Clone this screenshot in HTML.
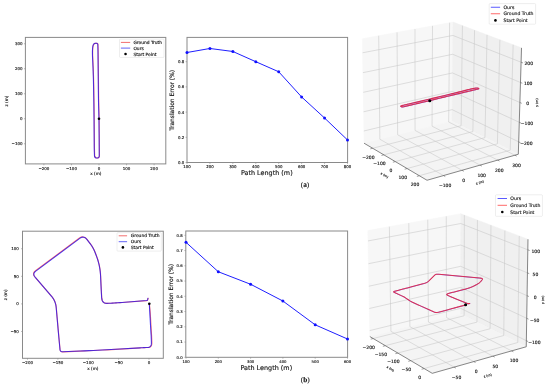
<!DOCTYPE html>
<html><head><meta charset="utf-8"><title>Trajectory and translation error</title>
<style>html,body{margin:0;padding:0;background:#fff;} body{width:550px;height:388px;overflow:hidden;} svg{display:block;}</style>
</head><body>
<svg width="550" height="388" viewBox="0 0 550 388" text-rendering="geometricPrecision">
<rect width="550" height="388" fill="#fff"/>
<rect x="25.4" y="37.4" width="140.4" height="126.5" fill="none" stroke="#8a8a8a" stroke-width="1"/>
<line x1="43.88" y1="163.9" x2="43.88" y2="165.3" stroke="#8a8a8a" stroke-width="0.6" />
<text x="43.88" y="169.84" font-size="4.0" text-anchor="middle" fill="#1a1a1a" font-family="'DejaVu Sans', 'Liberation Sans', sans-serif" stroke="#1a1a1a" stroke-width="0.15">−200</text>
<line x1="71.44" y1="163.9" x2="71.44" y2="165.3" stroke="#8a8a8a" stroke-width="0.6" />
<text x="71.44" y="169.84" font-size="4.0" text-anchor="middle" fill="#1a1a1a" font-family="'DejaVu Sans', 'Liberation Sans', sans-serif" stroke="#1a1a1a" stroke-width="0.15">−100</text>
<line x1="99" y1="163.9" x2="99" y2="165.3" stroke="#8a8a8a" stroke-width="0.6" />
<text x="99" y="169.84" font-size="4.0" text-anchor="middle" fill="#1a1a1a" font-family="'DejaVu Sans', 'Liberation Sans', sans-serif" stroke="#1a1a1a" stroke-width="0.15">0</text>
<line x1="126.56" y1="163.9" x2="126.56" y2="165.3" stroke="#8a8a8a" stroke-width="0.6" />
<text x="126.56" y="169.84" font-size="4.0" text-anchor="middle" fill="#1a1a1a" font-family="'DejaVu Sans', 'Liberation Sans', sans-serif" stroke="#1a1a1a" stroke-width="0.15">100</text>
<line x1="154.12" y1="163.9" x2="154.12" y2="165.3" stroke="#8a8a8a" stroke-width="0.6" />
<text x="154.12" y="169.84" font-size="4.0" text-anchor="middle" fill="#1a1a1a" font-family="'DejaVu Sans', 'Liberation Sans', sans-serif" stroke="#1a1a1a" stroke-width="0.15">200</text>
<line x1="24" y1="143.75" x2="25.4" y2="143.75" stroke="#8a8a8a" stroke-width="0.6" />
<text x="22.6" y="145.19" font-size="4.0" text-anchor="end" fill="#1a1a1a" font-family="'DejaVu Sans', 'Liberation Sans', sans-serif" stroke="#1a1a1a" stroke-width="0.15">−100</text>
<line x1="24" y1="118.75" x2="25.4" y2="118.75" stroke="#8a8a8a" stroke-width="0.6" />
<text x="22.6" y="120.19" font-size="4.0" text-anchor="end" fill="#1a1a1a" font-family="'DejaVu Sans', 'Liberation Sans', sans-serif" stroke="#1a1a1a" stroke-width="0.15">0</text>
<line x1="24" y1="93.75" x2="25.4" y2="93.75" stroke="#8a8a8a" stroke-width="0.6" />
<text x="22.6" y="95.19" font-size="4.0" text-anchor="end" fill="#1a1a1a" font-family="'DejaVu Sans', 'Liberation Sans', sans-serif" stroke="#1a1a1a" stroke-width="0.15">100</text>
<line x1="24" y1="68.75" x2="25.4" y2="68.75" stroke="#8a8a8a" stroke-width="0.6" />
<text x="22.6" y="70.19" font-size="4.0" text-anchor="end" fill="#1a1a1a" font-family="'DejaVu Sans', 'Liberation Sans', sans-serif" stroke="#1a1a1a" stroke-width="0.15">200</text>
<line x1="24" y1="43.75" x2="25.4" y2="43.75" stroke="#8a8a8a" stroke-width="0.6" />
<text x="22.6" y="45.19" font-size="4.0" text-anchor="end" fill="#1a1a1a" font-family="'DejaVu Sans', 'Liberation Sans', sans-serif" stroke="#1a1a1a" stroke-width="0.15">300</text>
<text x="95.8" y="175.11" font-size="4.2" text-anchor="middle" fill="#1a1a1a" font-family="'DejaVu Sans', 'Liberation Sans', sans-serif" stroke="#1a1a1a" stroke-width="0.15">x (m)</text>
<text x="6" y="102.51" font-size="4.2" text-anchor="middle" fill="#1a1a1a" font-family="'DejaVu Sans', 'Liberation Sans', sans-serif" stroke="#1a1a1a" stroke-width="0.15" transform="rotate(-90 6 101)">z (m)</text>
<polyline points="99.15,118.75 98.86,108 98.82,106.22 98.78,104.44 98.74,102.67 98.7,100.89 98.67,99.11 98.64,97.33 98.61,95.56 98.59,93.78 98.57,92 98.45,80 98.43,77.78 98.41,75.56 98.38,73.33 98.36,71.11 98.34,68.89 98.32,66.67 98.29,64.44 98.27,62.22 98.25,60 98.21,56 98.2,54.7 98.18,53.46 98.17,52.29 98.15,51.19 98.13,50.15 98.11,49.18 98.09,48.27 98.07,47.43 98.05,46.65 97.99,44.8 97.97,44.48 97.9,44.21 97.8,43.97 97.67,43.76 97.5,43.6 97.29,43.47 97.04,43.37 96.77,43.32 96.45,43.3 95.65,43.3 95.16,43.35 94.72,43.49 94.32,43.73 93.97,44.06 93.67,44.49 93.41,45.01 93.19,45.63 93.02,46.34 92.9,47.15 92.9,47.15 92.81,48.03 92.74,48.97 92.68,49.95 92.64,51 92.62,52.09 92.62,53.24 92.64,54.44 92.67,55.69 92.72,56.99 93,63.01 93.12,65.68 93.23,68.34 93.33,71.01 93.42,73.67 93.5,76.34 93.58,79 93.65,81.67 93.71,84.33 93.76,87 93.89,95 93.95,98.34 94,101.67 94.05,105 94.09,108.33 94.13,111.67 94.17,115 94.21,118.33 94.24,121.67 94.26,125 94.42,146 94.43,146.89 94.44,147.78 94.45,148.67 94.47,149.56 94.49,150.44 94.51,151.33 94.54,152.22 94.57,153.11 94.6,154 94.66,155.6 94.71,156.11 94.81,156.55 94.97,156.93 95.19,157.26 95.46,157.53 95.78,157.73 96.17,157.88 96.61,157.97 97.1,158 97.1,158 97.59,157.97 98.03,157.88 98.4,157.73 98.72,157.53 98.98,157.26 99.18,156.93 99.33,156.55 99.41,156.1 99.44,155.6 99.39,148 99.38,146.22 99.37,144.44 99.36,142.67 99.35,140.89 99.34,139.11 99.32,137.33 99.31,135.56 99.29,133.78 99.27,132 99.15,118.75" fill="none" stroke="#ff0000" stroke-width="1.15" stroke-opacity="0.55" stroke-linejoin="round" stroke-linecap="round" />
<polyline points="98.95,118.75 98.66,108 98.62,106.22 98.58,104.44 98.54,102.67 98.5,100.89 98.47,99.11 98.44,97.33 98.41,95.56 98.39,93.78 98.37,92 98.25,80 98.23,77.78 98.21,75.56 98.18,73.33 98.16,71.11 98.14,68.89 98.12,66.67 98.09,64.44 98.07,62.22 98.05,60 98.01,56 98,54.7 97.98,53.46 97.97,52.29 97.95,51.19 97.93,50.15 97.91,49.18 97.89,48.27 97.87,47.43 97.85,46.65 97.79,44.8 97.77,44.48 97.7,44.21 97.6,43.97 97.47,43.76 97.3,43.6 97.09,43.47 96.84,43.37 96.57,43.32 96.25,43.3 95.45,43.3 94.96,43.35 94.52,43.49 94.12,43.73 93.77,44.06 93.47,44.49 93.21,45.01 92.99,45.63 92.82,46.34 92.7,47.15 92.7,47.15 92.61,48.03 92.54,48.97 92.48,49.95 92.44,51 92.42,52.09 92.42,53.24 92.44,54.44 92.47,55.69 92.52,56.99 92.8,63.01 92.92,65.68 93.03,68.34 93.13,71.01 93.22,73.67 93.3,76.34 93.38,79 93.45,81.67 93.51,84.33 93.56,87 93.69,95 93.75,98.34 93.8,101.67 93.85,105 93.89,108.33 93.93,111.67 93.97,115 94.01,118.33 94.04,121.67 94.06,125 94.22,146 94.23,146.89 94.24,147.78 94.25,148.67 94.27,149.56 94.29,150.44 94.31,151.33 94.34,152.22 94.37,153.11 94.4,154 94.46,155.6 94.51,156.11 94.61,156.55 94.77,156.93 94.99,157.26 95.26,157.53 95.58,157.73 95.97,157.88 96.41,157.97 96.9,158 96.9,158 97.39,157.97 97.83,157.88 98.2,157.73 98.52,157.53 98.78,157.26 98.98,156.93 99.13,156.55 99.21,156.1 99.24,155.6 99.19,148 99.18,146.22 99.17,144.44 99.16,142.67 99.15,140.89 99.14,139.11 99.12,137.33 99.11,135.56 99.09,133.78 99.07,132 98.95,118.75" fill="none" stroke="#0000ff" stroke-width="1.1" stroke-opacity="0.68" stroke-linejoin="round" stroke-linecap="round" />
<circle cx="99" cy="118.75" r="1.3" fill="#000"/>
<rect x="119.5" y="39.2" width="44.5" height="18.2" rx="0.8" fill="#fff" fill-opacity="0.8" stroke="#dcdcdc" stroke-width="0.5"/>
<line x1="120.9" y1="42.4" x2="130.2" y2="42.4" stroke="#f26e6e" stroke-width="1.0" />
<text x="133.4" y="43.98" font-size="4.4" text-anchor="start" fill="#1a1a1a" font-family="'DejaVu Sans', 'Liberation Sans', sans-serif" stroke="#1a1a1a" stroke-width="0.15">Ground Truth</text>
<line x1="120.9" y1="48.1" x2="130.2" y2="48.1" stroke="#6464f6" stroke-width="1.0" />
<text x="133.4" y="49.68" font-size="4.4" text-anchor="start" fill="#1a1a1a" font-family="'DejaVu Sans', 'Liberation Sans', sans-serif" stroke="#1a1a1a" stroke-width="0.15">Ours</text>
<circle cx="125.55" cy="54" r="1.3" fill="#000"/>
<text x="133.4" y="55.58" font-size="4.4" text-anchor="start" fill="#1a1a1a" font-family="'DejaVu Sans', 'Liberation Sans', sans-serif" stroke="#1a1a1a" stroke-width="0.15">Start Point</text>
<rect x="187" y="37.4" width="160.6" height="125.1" fill="none" stroke="#8a8a8a" stroke-width="1"/>
<line x1="187" y1="162.5" x2="187" y2="163.9" stroke="#8a8a8a" stroke-width="0.6" />
<text x="187" y="168.2" font-size="3.9" text-anchor="middle" fill="#1a1a1a" font-family="'DejaVu Sans', 'Liberation Sans', sans-serif" stroke="#1a1a1a" stroke-width="0.15">100</text>
<line x1="209.93" y1="162.5" x2="209.93" y2="163.9" stroke="#8a8a8a" stroke-width="0.6" />
<text x="209.93" y="168.2" font-size="3.9" text-anchor="middle" fill="#1a1a1a" font-family="'DejaVu Sans', 'Liberation Sans', sans-serif" stroke="#1a1a1a" stroke-width="0.15">200</text>
<line x1="232.86" y1="162.5" x2="232.86" y2="163.9" stroke="#8a8a8a" stroke-width="0.6" />
<text x="232.86" y="168.2" font-size="3.9" text-anchor="middle" fill="#1a1a1a" font-family="'DejaVu Sans', 'Liberation Sans', sans-serif" stroke="#1a1a1a" stroke-width="0.15">300</text>
<line x1="255.79" y1="162.5" x2="255.79" y2="163.9" stroke="#8a8a8a" stroke-width="0.6" />
<text x="255.79" y="168.2" font-size="3.9" text-anchor="middle" fill="#1a1a1a" font-family="'DejaVu Sans', 'Liberation Sans', sans-serif" stroke="#1a1a1a" stroke-width="0.15">400</text>
<line x1="278.72" y1="162.5" x2="278.72" y2="163.9" stroke="#8a8a8a" stroke-width="0.6" />
<text x="278.72" y="168.2" font-size="3.9" text-anchor="middle" fill="#1a1a1a" font-family="'DejaVu Sans', 'Liberation Sans', sans-serif" stroke="#1a1a1a" stroke-width="0.15">500</text>
<line x1="301.64" y1="162.5" x2="301.64" y2="163.9" stroke="#8a8a8a" stroke-width="0.6" />
<text x="301.64" y="168.2" font-size="3.9" text-anchor="middle" fill="#1a1a1a" font-family="'DejaVu Sans', 'Liberation Sans', sans-serif" stroke="#1a1a1a" stroke-width="0.15">600</text>
<line x1="324.57" y1="162.5" x2="324.57" y2="163.9" stroke="#8a8a8a" stroke-width="0.6" />
<text x="324.57" y="168.2" font-size="3.9" text-anchor="middle" fill="#1a1a1a" font-family="'DejaVu Sans', 'Liberation Sans', sans-serif" stroke="#1a1a1a" stroke-width="0.15">700</text>
<line x1="347.5" y1="162.5" x2="347.5" y2="163.9" stroke="#8a8a8a" stroke-width="0.6" />
<text x="347.5" y="168.2" font-size="3.9" text-anchor="middle" fill="#1a1a1a" font-family="'DejaVu Sans', 'Liberation Sans', sans-serif" stroke="#1a1a1a" stroke-width="0.15">800</text>
<line x1="185.6" y1="162.5" x2="187" y2="162.5" stroke="#8a8a8a" stroke-width="0.6" />
<text x="184.2" y="163.9" font-size="3.9" text-anchor="end" fill="#1a1a1a" font-family="'DejaVu Sans', 'Liberation Sans', sans-serif" stroke="#1a1a1a" stroke-width="0.15">0.0</text>
<line x1="185.6" y1="137.3" x2="187" y2="137.3" stroke="#8a8a8a" stroke-width="0.6" />
<text x="184.2" y="138.7" font-size="3.9" text-anchor="end" fill="#1a1a1a" font-family="'DejaVu Sans', 'Liberation Sans', sans-serif" stroke="#1a1a1a" stroke-width="0.15">0.2</text>
<line x1="185.6" y1="112.1" x2="187" y2="112.1" stroke="#8a8a8a" stroke-width="0.6" />
<text x="184.2" y="113.5" font-size="3.9" text-anchor="end" fill="#1a1a1a" font-family="'DejaVu Sans', 'Liberation Sans', sans-serif" stroke="#1a1a1a" stroke-width="0.15">0.4</text>
<line x1="185.6" y1="86.9" x2="187" y2="86.9" stroke="#8a8a8a" stroke-width="0.6" />
<text x="184.2" y="88.3" font-size="3.9" text-anchor="end" fill="#1a1a1a" font-family="'DejaVu Sans', 'Liberation Sans', sans-serif" stroke="#1a1a1a" stroke-width="0.15">0.6</text>
<line x1="185.6" y1="61.7" x2="187" y2="61.7" stroke="#8a8a8a" stroke-width="0.6" />
<text x="184.2" y="63.1" font-size="3.9" text-anchor="end" fill="#1a1a1a" font-family="'DejaVu Sans', 'Liberation Sans', sans-serif" stroke="#1a1a1a" stroke-width="0.15">0.8</text>
<text x="266.8" y="174.92" font-size="6.45" text-anchor="middle" fill="#1a1a1a" font-family="'DejaVu Sans', 'Liberation Sans', sans-serif" stroke="#1a1a1a" stroke-width="0.15">Path Length (m)</text>
<text x="172.2" y="102.44" font-size="5.95" text-anchor="middle" fill="#1a1a1a" font-family="'DejaVu Sans', 'Liberation Sans', sans-serif" stroke="#1a1a1a" stroke-width="0.15" transform="rotate(-90 172.2 100.3)">Translation Error (%)</text>
<polyline points="187,52.5 209.93,48.47 232.86,51.49 255.79,61.7 278.72,71.78 301.64,96.98 324.57,118.02 347.5,139.95" fill="none" stroke="#1f1fff" stroke-width="1.0" stroke-opacity="1.0" stroke-linejoin="round" stroke-linecap="round" />
<circle cx="187" cy="52.5" r="1.5" fill="#1010ff"/>
<circle cx="209.93" cy="48.47" r="1.5" fill="#1010ff"/>
<circle cx="232.86" cy="51.49" r="1.5" fill="#1010ff"/>
<circle cx="255.79" cy="61.7" r="1.5" fill="#1010ff"/>
<circle cx="278.72" cy="71.78" r="1.5" fill="#1010ff"/>
<circle cx="301.64" cy="96.98" r="1.5" fill="#1010ff"/>
<circle cx="324.57" cy="118.02" r="1.5" fill="#1010ff"/>
<circle cx="347.5" cy="139.95" r="1.5" fill="#1010ff"/>
<rect x="22.5" y="231.2" width="140.8" height="127.1" fill="none" stroke="#8a8a8a" stroke-width="1"/>
<line x1="27.5" y1="358.3" x2="27.5" y2="359.7" stroke="#8a8a8a" stroke-width="0.6" />
<text x="27.5" y="364.34" font-size="4.0" text-anchor="middle" fill="#1a1a1a" font-family="'DejaVu Sans', 'Liberation Sans', sans-serif" stroke="#1a1a1a" stroke-width="0.15">−200</text>
<line x1="57.88" y1="358.3" x2="57.88" y2="359.7" stroke="#8a8a8a" stroke-width="0.6" />
<text x="57.88" y="364.34" font-size="4.0" text-anchor="middle" fill="#1a1a1a" font-family="'DejaVu Sans', 'Liberation Sans', sans-serif" stroke="#1a1a1a" stroke-width="0.15">−150</text>
<line x1="88.25" y1="358.3" x2="88.25" y2="359.7" stroke="#8a8a8a" stroke-width="0.6" />
<text x="88.25" y="364.34" font-size="4.0" text-anchor="middle" fill="#1a1a1a" font-family="'DejaVu Sans', 'Liberation Sans', sans-serif" stroke="#1a1a1a" stroke-width="0.15">−100</text>
<line x1="118.62" y1="358.3" x2="118.62" y2="359.7" stroke="#8a8a8a" stroke-width="0.6" />
<text x="118.62" y="364.34" font-size="4.0" text-anchor="middle" fill="#1a1a1a" font-family="'DejaVu Sans', 'Liberation Sans', sans-serif" stroke="#1a1a1a" stroke-width="0.15">−50</text>
<line x1="149" y1="358.3" x2="149" y2="359.7" stroke="#8a8a8a" stroke-width="0.6" />
<text x="149" y="364.34" font-size="4.0" text-anchor="middle" fill="#1a1a1a" font-family="'DejaVu Sans', 'Liberation Sans', sans-serif" stroke="#1a1a1a" stroke-width="0.15">0</text>
<line x1="21.1" y1="331.48" x2="22.5" y2="331.48" stroke="#8a8a8a" stroke-width="0.6" />
<text x="18.9" y="332.92" font-size="4.0" text-anchor="end" fill="#1a1a1a" font-family="'DejaVu Sans', 'Liberation Sans', sans-serif" stroke="#1a1a1a" stroke-width="0.15">−50</text>
<line x1="21.1" y1="303.9" x2="22.5" y2="303.9" stroke="#8a8a8a" stroke-width="0.6" />
<text x="18.9" y="305.34" font-size="4.0" text-anchor="end" fill="#1a1a1a" font-family="'DejaVu Sans', 'Liberation Sans', sans-serif" stroke="#1a1a1a" stroke-width="0.15">0</text>
<line x1="21.1" y1="276.31" x2="22.5" y2="276.31" stroke="#8a8a8a" stroke-width="0.6" />
<text x="18.9" y="277.75" font-size="4.0" text-anchor="end" fill="#1a1a1a" font-family="'DejaVu Sans', 'Liberation Sans', sans-serif" stroke="#1a1a1a" stroke-width="0.15">50</text>
<line x1="21.1" y1="248.73" x2="22.5" y2="248.73" stroke="#8a8a8a" stroke-width="0.6" />
<text x="18.9" y="250.17" font-size="4.0" text-anchor="end" fill="#1a1a1a" font-family="'DejaVu Sans', 'Liberation Sans', sans-serif" stroke="#1a1a1a" stroke-width="0.15">100</text>
<text x="92.8" y="370.11" font-size="4.2" text-anchor="middle" fill="#1a1a1a" font-family="'DejaVu Sans', 'Liberation Sans', sans-serif" stroke="#1a1a1a" stroke-width="0.15">x (m)</text>
<text x="5.5" y="296.41" font-size="4.2" text-anchor="middle" fill="#1a1a1a" font-family="'DejaVu Sans', 'Liberation Sans', sans-serif" stroke="#1a1a1a" stroke-width="0.15" transform="rotate(-90 5.5 294.9)">z (m)</text>
<polyline points="149.4,303.85 150.25,312.9 150.36,314.91 150.47,316.9 150.58,318.87 150.69,320.82 150.81,322.75 150.92,324.66 151.03,326.54 151.14,328.41 151.25,330.25 151.51,334.51 151.56,335.39 151.61,336.28 151.65,337.17 151.69,338.06 151.73,338.95 151.76,339.83 151.79,340.72 151.82,341.61 151.84,342.5 151.85,342.9 151.82,343.83 151.7,344.65 151.49,345.36 151.18,345.97 150.77,346.48 150.27,346.88 149.68,347.17 148.99,347.36 148.2,347.45 148.2,347.45 147.36,347.48 146.52,347.52 145.67,347.56 144.82,347.6 143.96,347.64 143.09,347.69 142.22,347.74 141.34,347.78 140.46,347.84 120.07,349.07 115.63,349.33 111.19,349.58 106.76,349.82 102.33,350.05 97.9,350.28 93.47,350.5 89.05,350.71 84.62,350.91 80.2,351.1 62.9,351.84 62.35,351.83 61.86,351.76 61.43,351.61 61.05,351.4 60.74,351.13 60.48,350.79 60.28,350.38 60.14,349.9 60.05,349.36 59.5,343.5 59.32,341.58 59.13,339.57 58.94,337.48 58.74,335.3 58.53,333.03 58.32,330.68 58.1,328.24 57.88,325.71 57.65,323.1 56.27,307.52 56.1,306.11 55.84,304.72 55.48,303.38 55.04,302.08 54.5,300.81 53.88,299.58 53.16,298.39 52.36,297.24 51.46,296.12 35.23,277.26 34.66,276.51 33.85,275.38 33.61,274.67 33.52,273.97 33.59,273.29 33.83,272.64 34.23,271.99 34.79,271.37 35.51,270.76 79.49,238.04 80.37,237.46 81.22,237.05 82.06,236.82 83.27,237.15 84.05,237.26 84.81,237.54 85.55,237.99 86.27,238.61 86.96,239.4 89.83,243.11 90.62,244.17 91.38,245.26 92.1,246.37 92.78,247.5 93.41,248.65 94.01,249.83 94.57,251.02 95.09,252.24 95.57,253.48 96.85,256.95 97.56,258.98 98.2,261.04 98.76,263.12 99.26,265.21 99.68,267.34 100.03,269.48 100.31,271.64 100.52,273.83 100.66,276.04 101.12,286.06 101.19,287.39 101.25,288.71 101.32,290.03 101.38,291.34 101.45,292.64 101.52,293.94 101.6,295.23 101.67,296.52 101.75,297.8 101.75,297.8 101.89,299 102.14,300.06 102.5,300.98 102.98,301.75 103.57,302.37 104.28,302.84 105.11,303.18 106.05,303.36 107.1,303.4 107.1,303.4 108.27,303.36 109.57,303.3 110.99,303.23 112.53,303.15 114.19,303.04 115.98,302.93 117.88,302.8 119.92,302.65 122.07,302.49 146.7,300.61 146.87,300.59 147.03,300.55 147.17,300.49 147.29,300.42 147.4,300.32 147.5,300.21 147.58,300.08 147.65,299.94 147.7,299.78 148.1,298.25" fill="none" stroke="#ff0000" stroke-width="1.15" stroke-opacity="0.55" stroke-linejoin="round" stroke-linecap="round" />
<polyline points="149.3,303.8 149.8,312.9 149.91,314.91 150.02,316.9 150.13,318.87 150.24,320.82 150.36,322.75 150.47,324.66 150.58,326.54 150.69,328.41 150.8,330.25 151.06,334.51 151.11,335.39 151.16,336.28 151.2,337.17 151.24,338.06 151.28,338.95 151.31,339.83 151.34,340.72 151.37,341.61 151.39,342.5 151.4,342.9 151.37,343.83 151.25,344.65 151.04,345.36 150.73,345.97 150.32,346.48 149.82,346.88 149.23,347.17 148.54,347.36 147.75,347.45 147.75,347.45 146.91,347.48 146.07,347.52 145.22,347.56 144.37,347.6 143.51,347.64 142.64,347.69 141.77,347.74 140.89,347.78 140.01,347.84 119.97,349.02 115.53,349.28 111.09,349.53 106.66,349.77 102.23,350 97.8,350.23 93.37,350.45 88.95,350.66 84.52,350.86 80.1,351.05 62.8,351.79 62.25,351.78 61.76,351.71 61.33,351.56 60.95,351.35 60.64,351.08 60.38,350.74 60.18,350.33 60.04,349.85 59.95,349.31 59.4,343.45 59.22,341.53 59.03,339.52 58.84,337.43 58.64,335.25 58.43,332.98 58.22,330.63 58,328.19 57.78,325.66 57.55,323.05 56.17,307.47 56,306.06 55.74,304.67 55.38,303.33 54.94,302.03 54.4,300.76 53.78,299.53 53.06,298.34 52.26,297.19 51.36,296.07 35.13,277.21 34.56,276.46 34.15,275.73 33.91,275.02 33.82,274.32 33.89,273.64 34.13,272.99 34.53,272.34 35.09,271.72 35.81,271.11 79.79,238.39 80.67,237.81 81.52,237.4 82.36,237.17 83.17,237.1 83.95,237.21 84.71,237.49 85.45,237.94 86.17,238.56 86.86,239.35 89.73,243.06 90.52,244.12 91.28,245.21 92,246.32 92.68,247.45 93.31,248.6 93.91,249.78 94.47,250.97 94.99,252.19 95.47,253.43 96.75,256.9 97.46,258.93 98.1,260.99 98.66,263.07 99.16,265.16 99.58,267.29 99.93,269.43 100.21,271.59 100.42,273.78 100.56,275.99 101.02,286.01 101.09,287.34 101.15,288.66 101.22,289.98 101.28,291.29 101.35,292.59 101.42,293.89 101.5,295.18 101.57,296.47 101.65,297.75 101.65,297.75 101.79,298.95 102.04,300.01 102.4,300.93 102.88,301.7 103.47,302.32 104.18,302.79 105.01,303.13 105.95,303.31 107,303.35 107,303.35 108.17,303.31 109.47,303.25 110.89,303.18 112.43,303.1 114.09,302.99 115.88,302.88 117.78,302.75 119.82,302.6 121.97,302.44 146.6,300.56 146.77,300.54 146.93,300.5 147.07,300.44 147.19,300.37 147.3,300.27 147.4,300.16 147.48,300.03 147.55,299.89 147.6,299.73 148,298.2" fill="none" stroke="#0000ff" stroke-width="1.1" stroke-opacity="0.68" stroke-linejoin="round" stroke-linecap="round" />
<circle cx="149.3" cy="303.8" r="1.3" fill="#000"/>
<rect x="117" y="232.7" width="44.3" height="18.4" rx="0.8" fill="#fff" fill-opacity="0.8" stroke="#dcdcdc" stroke-width="0.5"/>
<line x1="118.7" y1="235.8" x2="127.1" y2="235.8" stroke="#f26e6e" stroke-width="1.0" />
<text x="130.8" y="237.38" font-size="4.4" text-anchor="start" fill="#1a1a1a" font-family="'DejaVu Sans', 'Liberation Sans', sans-serif" stroke="#1a1a1a" stroke-width="0.15">Ground Truth</text>
<line x1="118.7" y1="241.7" x2="127.1" y2="241.7" stroke="#6464f6" stroke-width="1.0" />
<text x="130.8" y="243.28" font-size="4.4" text-anchor="start" fill="#1a1a1a" font-family="'DejaVu Sans', 'Liberation Sans', sans-serif" stroke="#1a1a1a" stroke-width="0.15">Ours</text>
<circle cx="122.9" cy="247.4" r="1.3" fill="#000"/>
<text x="130.8" y="248.98" font-size="4.4" text-anchor="start" fill="#1a1a1a" font-family="'DejaVu Sans', 'Liberation Sans', sans-serif" stroke="#1a1a1a" stroke-width="0.15">Start Point</text>
<rect x="185.8" y="231" width="161.8" height="126.3" fill="none" stroke="#8a8a8a" stroke-width="1"/>
<line x1="186" y1="357.3" x2="186" y2="358.7" stroke="#8a8a8a" stroke-width="0.6" />
<text x="186" y="362.77" font-size="3.8" text-anchor="middle" fill="#1a1a1a" font-family="'DejaVu Sans', 'Liberation Sans', sans-serif" stroke="#1a1a1a" stroke-width="0.15">100</text>
<line x1="218.3" y1="357.3" x2="218.3" y2="358.7" stroke="#8a8a8a" stroke-width="0.6" />
<text x="218.3" y="362.77" font-size="3.8" text-anchor="middle" fill="#1a1a1a" font-family="'DejaVu Sans', 'Liberation Sans', sans-serif" stroke="#1a1a1a" stroke-width="0.15">200</text>
<line x1="250.6" y1="357.3" x2="250.6" y2="358.7" stroke="#8a8a8a" stroke-width="0.6" />
<text x="250.6" y="362.77" font-size="3.8" text-anchor="middle" fill="#1a1a1a" font-family="'DejaVu Sans', 'Liberation Sans', sans-serif" stroke="#1a1a1a" stroke-width="0.15">300</text>
<line x1="282.9" y1="357.3" x2="282.9" y2="358.7" stroke="#8a8a8a" stroke-width="0.6" />
<text x="282.9" y="362.77" font-size="3.8" text-anchor="middle" fill="#1a1a1a" font-family="'DejaVu Sans', 'Liberation Sans', sans-serif" stroke="#1a1a1a" stroke-width="0.15">400</text>
<line x1="315.2" y1="357.3" x2="315.2" y2="358.7" stroke="#8a8a8a" stroke-width="0.6" />
<text x="315.2" y="362.77" font-size="3.8" text-anchor="middle" fill="#1a1a1a" font-family="'DejaVu Sans', 'Liberation Sans', sans-serif" stroke="#1a1a1a" stroke-width="0.15">500</text>
<line x1="347.5" y1="357.3" x2="347.5" y2="358.7" stroke="#8a8a8a" stroke-width="0.6" />
<text x="347.5" y="362.77" font-size="3.8" text-anchor="middle" fill="#1a1a1a" font-family="'DejaVu Sans', 'Liberation Sans', sans-serif" stroke="#1a1a1a" stroke-width="0.15">600</text>
<line x1="184.4" y1="357.3" x2="185.8" y2="357.3" stroke="#8a8a8a" stroke-width="0.6" />
<text x="182.6" y="358.67" font-size="3.8" text-anchor="end" fill="#1a1a1a" font-family="'DejaVu Sans', 'Liberation Sans', sans-serif" stroke="#1a1a1a" stroke-width="0.15">0.0</text>
<line x1="184.4" y1="342.05" x2="185.8" y2="342.05" stroke="#8a8a8a" stroke-width="0.6" />
<text x="182.6" y="343.42" font-size="3.8" text-anchor="end" fill="#1a1a1a" font-family="'DejaVu Sans', 'Liberation Sans', sans-serif" stroke="#1a1a1a" stroke-width="0.15">0.1</text>
<line x1="184.4" y1="326.8" x2="185.8" y2="326.8" stroke="#8a8a8a" stroke-width="0.6" />
<text x="182.6" y="328.17" font-size="3.8" text-anchor="end" fill="#1a1a1a" font-family="'DejaVu Sans', 'Liberation Sans', sans-serif" stroke="#1a1a1a" stroke-width="0.15">0.2</text>
<line x1="184.4" y1="311.55" x2="185.8" y2="311.55" stroke="#8a8a8a" stroke-width="0.6" />
<text x="182.6" y="312.92" font-size="3.8" text-anchor="end" fill="#1a1a1a" font-family="'DejaVu Sans', 'Liberation Sans', sans-serif" stroke="#1a1a1a" stroke-width="0.15">0.3</text>
<line x1="184.4" y1="296.3" x2="185.8" y2="296.3" stroke="#8a8a8a" stroke-width="0.6" />
<text x="182.6" y="297.67" font-size="3.8" text-anchor="end" fill="#1a1a1a" font-family="'DejaVu Sans', 'Liberation Sans', sans-serif" stroke="#1a1a1a" stroke-width="0.15">0.4</text>
<line x1="184.4" y1="281.05" x2="185.8" y2="281.05" stroke="#8a8a8a" stroke-width="0.6" />
<text x="182.6" y="282.42" font-size="3.8" text-anchor="end" fill="#1a1a1a" font-family="'DejaVu Sans', 'Liberation Sans', sans-serif" stroke="#1a1a1a" stroke-width="0.15">0.5</text>
<line x1="184.4" y1="265.8" x2="185.8" y2="265.8" stroke="#8a8a8a" stroke-width="0.6" />
<text x="182.6" y="267.17" font-size="3.8" text-anchor="end" fill="#1a1a1a" font-family="'DejaVu Sans', 'Liberation Sans', sans-serif" stroke="#1a1a1a" stroke-width="0.15">0.6</text>
<line x1="184.4" y1="250.55" x2="185.8" y2="250.55" stroke="#8a8a8a" stroke-width="0.6" />
<text x="182.6" y="251.92" font-size="3.8" text-anchor="end" fill="#1a1a1a" font-family="'DejaVu Sans', 'Liberation Sans', sans-serif" stroke="#1a1a1a" stroke-width="0.15">0.7</text>
<line x1="184.4" y1="235.3" x2="185.8" y2="235.3" stroke="#8a8a8a" stroke-width="0.6" />
<text x="182.6" y="236.67" font-size="3.8" text-anchor="end" fill="#1a1a1a" font-family="'DejaVu Sans', 'Liberation Sans', sans-serif" stroke="#1a1a1a" stroke-width="0.15">0.8</text>
<text x="266.3" y="369.62" font-size="6.45" text-anchor="middle" fill="#1a1a1a" font-family="'DejaVu Sans', 'Liberation Sans', sans-serif" stroke="#1a1a1a" stroke-width="0.15">Path Length (m)</text>
<text x="171.2" y="296.44" font-size="5.95" text-anchor="middle" fill="#1a1a1a" font-family="'DejaVu Sans', 'Liberation Sans', sans-serif" stroke="#1a1a1a" stroke-width="0.15" transform="rotate(-90 171.2 294.3)">Translation Error (%)</text>
<polyline points="186,242.31 218.3,271.75 250.6,284.25 282.9,301.03 315.2,324.82 347.5,339" fill="none" stroke="#1f1fff" stroke-width="1.0" stroke-opacity="1.0" stroke-linejoin="round" stroke-linecap="round" />
<circle cx="186" cy="242.31" r="1.5" fill="#1010ff"/>
<circle cx="218.3" cy="271.75" r="1.5" fill="#1010ff"/>
<circle cx="250.6" cy="284.25" r="1.5" fill="#1010ff"/>
<circle cx="282.9" cy="301.03" r="1.5" fill="#1010ff"/>
<circle cx="315.2" cy="324.82" r="1.5" fill="#1010ff"/>
<circle cx="347.5" cy="339" r="1.5" fill="#1010ff"/>
<text x="305" y="186.5" font-size="7.3" text-anchor="middle" fill="#111" stroke="#111" stroke-width="0.12" font-family="'Liberation Serif', serif">(<tspan font-weight="bold">a</tspan>)</text>
<text x="305.3" y="382.2" font-size="7.3" text-anchor="middle" fill="#111" stroke="#111" stroke-width="0.12" font-family="'Liberation Serif', serif">(<tspan font-weight="bold">b</tspan>)</text>
<polygon points="364.03,143.18 451.99,121.18 453.02,22.08 362.39,38.68" fill="#f7f7f7" stroke="#f7f7f7" stroke-width="0.5" />
<polygon points="451.99,121.18 518.32,154.23 521.52,47.87 453.02,22.08" fill="#f0f0f0" stroke="#f0f0f0" stroke-width="0.5" />
<polygon points="364.03,143.18 427.03,180.26 518.32,154.23 451.99,121.18" fill="#f4f4f4" stroke="#f4f4f4" stroke-width="0.5" />
<line x1="379.85" y1="139.22" x2="378.71" y2="35.69" stroke="#c6c6c6" stroke-width="0.55" />
<line x1="379.85" y1="139.22" x2="443.51" y2="175.57" stroke="#c6c6c6" stroke-width="0.55" />
<line x1="397.65" y1="134.77" x2="397.06" y2="32.33" stroke="#c6c6c6" stroke-width="0.55" />
<line x1="397.65" y1="134.77" x2="462.02" y2="170.29" stroke="#c6c6c6" stroke-width="0.55" />
<line x1="415.04" y1="130.42" x2="414.99" y2="29.05" stroke="#c6c6c6" stroke-width="0.55" />
<line x1="415.04" y1="130.42" x2="480.08" y2="165.14" stroke="#c6c6c6" stroke-width="0.55" />
<line x1="432.05" y1="126.17" x2="432.5" y2="25.84" stroke="#c6c6c6" stroke-width="0.55" />
<line x1="432.05" y1="126.17" x2="497.69" y2="160.11" stroke="#c6c6c6" stroke-width="0.55" />
<line x1="448.68" y1="122.01" x2="449.61" y2="22.71" stroke="#c6c6c6" stroke-width="0.55" />
<line x1="448.68" y1="122.01" x2="514.89" y2="155.21" stroke="#c6c6c6" stroke-width="0.55" />
<line x1="363.84" y1="131.01" x2="452.11" y2="109.63" stroke="#c6c6c6" stroke-width="0.55" />
<line x1="452.11" y1="109.63" x2="518.69" y2="141.86" stroke="#c6c6c6" stroke-width="0.55" />
<line x1="363.54" y1="111.79" x2="452.3" y2="91.38" stroke="#c6c6c6" stroke-width="0.55" />
<line x1="452.3" y1="91.38" x2="519.28" y2="122.29" stroke="#c6c6c6" stroke-width="0.55" />
<line x1="363.23" y1="92.34" x2="452.49" y2="72.93" stroke="#c6c6c6" stroke-width="0.55" />
<line x1="452.49" y1="72.93" x2="519.88" y2="102.5" stroke="#c6c6c6" stroke-width="0.55" />
<line x1="362.93" y1="72.67" x2="452.69" y2="54.28" stroke="#c6c6c6" stroke-width="0.55" />
<line x1="452.69" y1="54.28" x2="520.48" y2="82.48" stroke="#c6c6c6" stroke-width="0.55" />
<line x1="362.61" y1="52.78" x2="452.88" y2="35.43" stroke="#c6c6c6" stroke-width="0.55" />
<line x1="452.88" y1="35.43" x2="521.09" y2="62.22" stroke="#c6c6c6" stroke-width="0.55" />
<line x1="461.13" y1="125.73" x2="462.43" y2="25.62" stroke="#c6c6c6" stroke-width="0.55" />
<line x1="372.67" y1="148.26" x2="461.13" y2="125.73" stroke="#c6c6c6" stroke-width="0.55" />
<line x1="472.88" y1="131.59" x2="474.55" y2="30.19" stroke="#c6c6c6" stroke-width="0.55" />
<line x1="383.8" y1="154.82" x2="472.88" y2="131.59" stroke="#c6c6c6" stroke-width="0.55" />
<line x1="484.97" y1="137.61" x2="487.04" y2="34.89" stroke="#c6c6c6" stroke-width="0.55" />
<line x1="395.27" y1="161.57" x2="484.97" y2="137.61" stroke="#c6c6c6" stroke-width="0.55" />
<line x1="497.41" y1="143.82" x2="499.9" y2="39.73" stroke="#c6c6c6" stroke-width="0.55" />
<line x1="407.11" y1="168.54" x2="497.41" y2="143.82" stroke="#c6c6c6" stroke-width="0.55" />
<line x1="510.23" y1="150.2" x2="513.15" y2="44.72" stroke="#c6c6c6" stroke-width="0.55" />
<line x1="419.31" y1="175.72" x2="510.23" y2="150.2" stroke="#c6c6c6" stroke-width="0.55" />
<line x1="364.03" y1="143.18" x2="427.03" y2="180.26" stroke="#606060" stroke-width="0.75" />
<line x1="427.03" y1="180.26" x2="518.32" y2="154.23" stroke="#606060" stroke-width="0.75" />
<line x1="518.32" y1="154.23" x2="521.52" y2="47.87" stroke="#606060" stroke-width="0.75" />
<line x1="372.67" y1="148.26" x2="370.32" y2="148.86" stroke="#606060" stroke-width="0.6" />
<line x1="383.8" y1="154.82" x2="381.44" y2="155.43" stroke="#606060" stroke-width="0.6" />
<line x1="395.27" y1="161.57" x2="392.89" y2="162.21" stroke="#606060" stroke-width="0.6" />
<line x1="407.11" y1="168.54" x2="404.7" y2="169.2" stroke="#606060" stroke-width="0.6" />
<line x1="419.31" y1="175.72" x2="416.89" y2="176.4" stroke="#606060" stroke-width="0.6" />
<line x1="443.51" y1="175.57" x2="445.24" y2="176.55" stroke="#606060" stroke-width="0.6" />
<line x1="462.02" y1="170.29" x2="463.77" y2="171.25" stroke="#606060" stroke-width="0.6" />
<line x1="480.08" y1="165.14" x2="481.84" y2="166.08" stroke="#606060" stroke-width="0.6" />
<line x1="497.69" y1="160.11" x2="499.47" y2="161.03" stroke="#606060" stroke-width="0.6" />
<line x1="514.89" y1="155.21" x2="516.68" y2="156.11" stroke="#606060" stroke-width="0.6" />
<line x1="518.69" y1="141.86" x2="520.49" y2="142.73" stroke="#606060" stroke-width="0.6" />
<line x1="519.28" y1="122.29" x2="521.1" y2="123.13" stroke="#606060" stroke-width="0.6" />
<line x1="519.88" y1="102.5" x2="521.7" y2="103.31" stroke="#606060" stroke-width="0.6" />
<line x1="520.48" y1="82.48" x2="522.32" y2="83.25" stroke="#606060" stroke-width="0.6" />
<line x1="521.09" y1="62.22" x2="522.94" y2="62.95" stroke="#606060" stroke-width="0.6" />
<text x="368.37" y="158.88" font-size="4.5" text-anchor="middle" fill="#1a1a1a" font-family="'DejaVu Sans', 'Liberation Sans', sans-serif" stroke="#1a1a1a" stroke-width="0.15">−200</text>
<text x="379.5" y="165.44" font-size="4.5" text-anchor="middle" fill="#1a1a1a" font-family="'DejaVu Sans', 'Liberation Sans', sans-serif" stroke="#1a1a1a" stroke-width="0.15">−100</text>
<text x="390.97" y="172.19" font-size="4.5" text-anchor="middle" fill="#1a1a1a" font-family="'DejaVu Sans', 'Liberation Sans', sans-serif" stroke="#1a1a1a" stroke-width="0.15">0</text>
<text x="402.81" y="179.16" font-size="4.5" text-anchor="middle" fill="#1a1a1a" font-family="'DejaVu Sans', 'Liberation Sans', sans-serif" stroke="#1a1a1a" stroke-width="0.15">100</text>
<text x="415.01" y="186.34" font-size="4.5" text-anchor="middle" fill="#1a1a1a" font-family="'DejaVu Sans', 'Liberation Sans', sans-serif" stroke="#1a1a1a" stroke-width="0.15">200</text>
<text x="445.11" y="187.09" font-size="4.5" text-anchor="middle" fill="#1a1a1a" font-family="'DejaVu Sans', 'Liberation Sans', sans-serif" stroke="#1a1a1a" stroke-width="0.15">−100</text>
<text x="463.62" y="181.81" font-size="4.5" text-anchor="middle" fill="#1a1a1a" font-family="'DejaVu Sans', 'Liberation Sans', sans-serif" stroke="#1a1a1a" stroke-width="0.15">0</text>
<text x="481.68" y="176.66" font-size="4.5" text-anchor="middle" fill="#1a1a1a" font-family="'DejaVu Sans', 'Liberation Sans', sans-serif" stroke="#1a1a1a" stroke-width="0.15">100</text>
<text x="499.29" y="171.63" font-size="4.5" text-anchor="middle" fill="#1a1a1a" font-family="'DejaVu Sans', 'Liberation Sans', sans-serif" stroke="#1a1a1a" stroke-width="0.15">200</text>
<text x="516.49" y="166.73" font-size="4.5" text-anchor="middle" fill="#1a1a1a" font-family="'DejaVu Sans', 'Liberation Sans', sans-serif" stroke="#1a1a1a" stroke-width="0.15">300</text>
<text x="526.39" y="144.68" font-size="4.5" text-anchor="middle" fill="#1a1a1a" font-family="'DejaVu Sans', 'Liberation Sans', sans-serif" stroke="#1a1a1a" stroke-width="0.15">−200</text>
<text x="526.98" y="125.11" font-size="4.5" text-anchor="middle" fill="#1a1a1a" font-family="'DejaVu Sans', 'Liberation Sans', sans-serif" stroke="#1a1a1a" stroke-width="0.15">−100</text>
<text x="527.58" y="105.32" font-size="4.5" text-anchor="middle" fill="#1a1a1a" font-family="'DejaVu Sans', 'Liberation Sans', sans-serif" stroke="#1a1a1a" stroke-width="0.15">0</text>
<text x="528.18" y="85.3" font-size="4.5" text-anchor="middle" fill="#1a1a1a" font-family="'DejaVu Sans', 'Liberation Sans', sans-serif" stroke="#1a1a1a" stroke-width="0.15">100</text>
<text x="528.79" y="65.04" font-size="4.5" text-anchor="middle" fill="#1a1a1a" font-family="'DejaVu Sans', 'Liberation Sans', sans-serif" stroke="#1a1a1a" stroke-width="0.15">200</text>
<text x="384.5" y="176.25" font-size="3.2" text-anchor="middle" fill="#1a1a1a" font-family="'DejaVu Sans', 'Liberation Sans', sans-serif" stroke="#1a1a1a" stroke-width="0.15" transform="rotate(31 384.5 175.1)">x (m)</text>
<text x="480" y="183.55" font-size="3.2" text-anchor="middle" fill="#1a1a1a" font-family="'DejaVu Sans', 'Liberation Sans', sans-serif" stroke="#1a1a1a" stroke-width="0.15" transform="rotate(-16 480 182.4)">z (m)</text>
<text x="536.4" y="103.75" font-size="3.2" text-anchor="middle" fill="#1a1a1a" font-family="'DejaVu Sans', 'Liberation Sans', sans-serif" stroke="#1a1a1a" stroke-width="0.15" transform="rotate(-90 536.4 102.6)">y (m)</text>
<polyline points="429.52,100.76 436.77,98.98 437.96,98.69 439.16,98.4 440.35,98.11 441.54,97.82 442.73,97.54 443.92,97.25 445.11,96.97 446.3,96.68 447.49,96.4 455.46,94.51 456.93,94.16 458.4,93.81 459.86,93.47 461.32,93.12 462.77,92.77 464.23,92.43 465.68,92.08 467.12,91.74 468.57,91.4 471.16,90.78 472,90.58 472.8,90.39 473.55,90.21 474.26,90.04 474.92,89.88 475.55,89.73 476.13,89.59 476.66,89.46 477.15,89.34 478.32,89.05 478.51,89 478.66,88.95 478.77,88.89 478.84,88.83 478.87,88.77 478.86,88.71 478.81,88.65 478.72,88.59 478.59,88.52 478.24,88.36 477.99,88.27 477.7,88.2 477.36,88.16 476.99,88.14 476.58,88.14 476.13,88.17 475.63,88.22 475.1,88.29 474.52,88.39 474.52,88.39 473.91,88.5 473.27,88.63 472.61,88.76 471.92,88.91 471.2,89.07 470.46,89.24 469.69,89.43 468.89,89.62 468.06,89.83 464.25,90.79 462.56,91.22 460.86,91.65 459.15,92.08 457.43,92.5 455.7,92.93 453.97,93.35 452.22,93.78 450.47,94.2 448.71,94.62 443.4,95.9 441.17,96.43 438.94,96.96 436.7,97.5 434.45,98.03 432.19,98.57 429.92,99.1 427.64,99.64 425.36,100.18 423.06,100.72 408.44,104.16 407.82,104.31 407.2,104.45 406.57,104.6 405.95,104.75 405.33,104.9 404.71,105.05 404.09,105.21 403.47,105.36 402.85,105.51 401.73,105.79 401.4,105.88 401.12,105.98 400.92,106.08 400.78,106.18 400.7,106.28 400.7,106.39 400.76,106.5 400.88,106.61 401.07,106.72 401.07,106.72 401.31,106.83 401.56,106.91 401.82,106.97 402.11,107 402.41,107.02 402.73,107.01 403.07,106.97 403.42,106.92 403.79,106.84 409.18,105.57 410.43,105.28 411.68,104.98 412.93,104.69 414.18,104.39 415.43,104.1 416.67,103.81 417.91,103.51 419.14,103.22 420.38,102.93 429.52,100.76" fill="none" stroke="#2020ff" stroke-width="1.0" stroke-opacity="0.6" stroke-linejoin="round" stroke-linecap="round" />
<polyline points="429.52,100.61 436.77,98.83 437.96,98.54 439.16,98.25 440.35,97.96 441.54,97.67 442.73,97.39 443.92,97.1 445.11,96.82 446.3,96.53 447.49,96.25 455.46,94.36 456.93,94.01 458.4,93.66 459.86,93.32 461.32,92.97 462.77,92.62 464.23,92.28 465.68,91.93 467.12,91.59 468.57,91.25 471.16,90.63 472,90.43 472.8,90.24 473.55,90.06 474.26,89.89 474.92,89.73 475.55,89.58 476.13,89.44 476.66,89.31 477.15,89.19 478.32,88.9 478.51,88.85 478.66,88.8 478.77,88.74 478.84,88.68 478.87,88.62 478.86,88.56 478.81,88.5 478.72,88.44 478.59,88.37 478.24,88.21 477.99,88.12 477.7,88.05 477.36,88.01 476.99,87.99 476.58,87.99 476.13,88.02 475.63,88.07 475.1,88.14 474.52,88.24 474.52,88.24 473.91,88.35 473.27,88.48 472.61,88.61 471.92,88.76 471.2,88.92 470.46,89.09 469.69,89.28 468.89,89.47 468.06,89.68 464.25,90.64 462.56,91.07 460.86,91.5 459.15,91.93 457.43,92.35 455.7,92.78 453.97,93.2 452.22,93.63 450.47,94.05 448.71,94.47 443.4,95.75 441.17,96.28 438.94,96.81 436.7,97.35 434.45,97.88 432.19,98.42 429.92,98.95 427.64,99.49 425.36,100.03 423.06,100.57 408.44,104.01 407.82,104.16 407.2,104.3 406.57,104.45 405.95,104.6 405.33,104.75 404.71,104.9 404.09,105.06 403.47,105.21 402.85,105.36 401.73,105.64 401.4,105.73 401.12,105.83 400.92,105.93 400.78,106.03 400.7,106.13 400.7,106.24 400.76,106.35 400.88,106.46 401.07,106.57 401.07,106.57 401.31,106.68 401.56,106.76 401.82,106.82 402.11,106.85 402.41,106.87 402.73,106.86 403.07,106.82 403.42,106.77 403.79,106.69 409.18,105.42 410.43,105.13 411.68,104.83 412.93,104.54 414.18,104.24 415.43,103.95 416.67,103.66 417.91,103.36 419.14,103.07 420.38,102.78 429.52,100.61" fill="none" stroke="#e5223f" stroke-width="1.15" stroke-opacity="0.88" stroke-linejoin="round" stroke-linecap="round" />
<circle cx="429.8" cy="100.7" r="1.55" fill="#000"/>
<rect x="489.2" y="3.6" width="46.4" height="20.6" rx="0.8" fill="#fff" fill-opacity="0.8" stroke="#dcdcdc" stroke-width="0.5"/>
<line x1="490.8" y1="7.25" x2="500.1" y2="7.25" stroke="#5a5aff" stroke-width="1.0" />
<text x="503.5" y="8.91" font-size="4.6" text-anchor="start" fill="#1a1a1a" font-family="'DejaVu Sans', 'Liberation Sans', sans-serif" stroke="#1a1a1a" stroke-width="0.15">Ours</text>
<line x1="490.8" y1="13.75" x2="500.1" y2="13.75" stroke="#ff6a6a" stroke-width="1.0" />
<text x="503.5" y="15.41" font-size="4.6" text-anchor="start" fill="#1a1a1a" font-family="'DejaVu Sans', 'Liberation Sans', sans-serif" stroke="#1a1a1a" stroke-width="0.15">Ground Truth</text>
<circle cx="495.45" cy="20.4" r="1.3" fill="#000"/>
<text x="503.5" y="22.06" font-size="4.6" text-anchor="start" fill="#1a1a1a" font-family="'DejaVu Sans', 'Liberation Sans', sans-serif" stroke="#1a1a1a" stroke-width="0.15">Start Point</text>
<polygon points="369.85,336.56 460.67,314.01 460.78,213.7 367.8,230.56" fill="#f7f7f7" stroke="#f7f7f7" stroke-width="0.5" />
<polygon points="460.67,314.01 526.26,346.75 527.97,239.27 460.78,213.7" fill="#f0f0f0" stroke="#f0f0f0" stroke-width="0.5" />
<polygon points="369.85,336.56 432.24,373.32 526.26,346.75 460.67,314.01" fill="#f4f4f4" stroke="#f4f4f4" stroke-width="0.5" />
<line x1="390.91" y1="331.33" x2="389.39" y2="226.64" stroke="#c6c6c6" stroke-width="0.55" />
<line x1="390.91" y1="331.33" x2="454.13" y2="367.13" stroke="#c6c6c6" stroke-width="0.55" />
<line x1="409.88" y1="326.62" x2="408.81" y2="223.12" stroke="#c6c6c6" stroke-width="0.55" />
<line x1="409.88" y1="326.62" x2="473.79" y2="361.58" stroke="#c6c6c6" stroke-width="0.55" />
<line x1="428.39" y1="322.02" x2="427.76" y2="219.68" stroke="#c6c6c6" stroke-width="0.55" />
<line x1="428.39" y1="322.02" x2="492.95" y2="356.16" stroke="#c6c6c6" stroke-width="0.55" />
<line x1="446.47" y1="317.53" x2="446.26" y2="216.33" stroke="#c6c6c6" stroke-width="0.55" />
<line x1="446.47" y1="317.53" x2="511.62" y2="350.89" stroke="#c6c6c6" stroke-width="0.55" />
<line x1="369.73" y1="330.58" x2="460.68" y2="308.34" stroke="#c6c6c6" stroke-width="0.55" />
<line x1="460.68" y1="308.34" x2="526.36" y2="340.69" stroke="#c6c6c6" stroke-width="0.55" />
<line x1="369.31" y1="308.51" x2="460.7" y2="287.43" stroke="#c6c6c6" stroke-width="0.55" />
<line x1="460.7" y1="287.43" x2="526.71" y2="318.31" stroke="#c6c6c6" stroke-width="0.55" />
<line x1="368.87" y1="286.21" x2="460.72" y2="266.32" stroke="#c6c6c6" stroke-width="0.55" />
<line x1="460.72" y1="266.32" x2="527.07" y2="295.71" stroke="#c6c6c6" stroke-width="0.55" />
<line x1="368.44" y1="263.69" x2="460.75" y2="245.02" stroke="#c6c6c6" stroke-width="0.55" />
<line x1="460.75" y1="245.02" x2="527.43" y2="272.87" stroke="#c6c6c6" stroke-width="0.55" />
<line x1="368" y1="240.94" x2="460.77" y2="223.51" stroke="#c6c6c6" stroke-width="0.55" />
<line x1="460.77" y1="223.51" x2="527.8" y2="249.8" stroke="#c6c6c6" stroke-width="0.55" />
<line x1="464.17" y1="315.75" x2="464.36" y2="215.06" stroke="#c6c6c6" stroke-width="0.55" />
<line x1="373.17" y1="338.51" x2="464.17" y2="315.75" stroke="#c6c6c6" stroke-width="0.55" />
<line x1="476.97" y1="322.14" x2="477.45" y2="220.04" stroke="#c6c6c6" stroke-width="0.55" />
<line x1="385.3" y1="345.66" x2="476.97" y2="322.14" stroke="#c6c6c6" stroke-width="0.55" />
<line x1="490.15" y1="328.72" x2="490.95" y2="225.18" stroke="#c6c6c6" stroke-width="0.55" />
<line x1="397.82" y1="353.04" x2="490.15" y2="328.72" stroke="#c6c6c6" stroke-width="0.55" />
<line x1="503.75" y1="335.51" x2="504.88" y2="230.48" stroke="#c6c6c6" stroke-width="0.55" />
<line x1="410.76" y1="360.66" x2="503.75" y2="335.51" stroke="#c6c6c6" stroke-width="0.55" />
<line x1="517.77" y1="342.51" x2="519.26" y2="235.96" stroke="#c6c6c6" stroke-width="0.55" />
<line x1="424.14" y1="368.54" x2="517.77" y2="342.51" stroke="#c6c6c6" stroke-width="0.55" />
<line x1="369.85" y1="336.56" x2="432.24" y2="373.32" stroke="#606060" stroke-width="0.75" />
<line x1="432.24" y1="373.32" x2="526.26" y2="346.75" stroke="#606060" stroke-width="0.75" />
<line x1="526.26" y1="346.75" x2="527.97" y2="239.27" stroke="#606060" stroke-width="0.75" />
<line x1="373.17" y1="338.51" x2="370.75" y2="339.12" stroke="#606060" stroke-width="0.6" />
<line x1="385.3" y1="345.66" x2="382.86" y2="346.29" stroke="#606060" stroke-width="0.6" />
<line x1="397.82" y1="353.04" x2="395.37" y2="353.69" stroke="#606060" stroke-width="0.6" />
<line x1="410.76" y1="360.66" x2="408.28" y2="361.33" stroke="#606060" stroke-width="0.6" />
<line x1="424.14" y1="368.54" x2="421.64" y2="369.24" stroke="#606060" stroke-width="0.6" />
<line x1="454.13" y1="367.13" x2="455.84" y2="368.1" stroke="#606060" stroke-width="0.6" />
<line x1="473.79" y1="361.58" x2="475.52" y2="362.52" stroke="#606060" stroke-width="0.6" />
<line x1="492.95" y1="356.16" x2="494.69" y2="357.09" stroke="#606060" stroke-width="0.6" />
<line x1="511.62" y1="350.89" x2="513.38" y2="351.79" stroke="#606060" stroke-width="0.6" />
<line x1="526.36" y1="340.69" x2="528.13" y2="341.56" stroke="#606060" stroke-width="0.6" />
<line x1="526.71" y1="318.31" x2="528.49" y2="319.15" stroke="#606060" stroke-width="0.6" />
<line x1="527.07" y1="295.71" x2="528.86" y2="296.5" stroke="#606060" stroke-width="0.6" />
<line x1="527.43" y1="272.87" x2="529.23" y2="273.62" stroke="#606060" stroke-width="0.6" />
<line x1="527.8" y1="249.8" x2="529.61" y2="250.51" stroke="#606060" stroke-width="0.6" />
<text x="368.77" y="348.73" font-size="4.5" text-anchor="middle" fill="#1a1a1a" font-family="'DejaVu Sans', 'Liberation Sans', sans-serif" stroke="#1a1a1a" stroke-width="0.15">−200</text>
<text x="380.9" y="355.88" font-size="4.5" text-anchor="middle" fill="#1a1a1a" font-family="'DejaVu Sans', 'Liberation Sans', sans-serif" stroke="#1a1a1a" stroke-width="0.15">−150</text>
<text x="393.42" y="363.26" font-size="4.5" text-anchor="middle" fill="#1a1a1a" font-family="'DejaVu Sans', 'Liberation Sans', sans-serif" stroke="#1a1a1a" stroke-width="0.15">−100</text>
<text x="406.36" y="370.88" font-size="4.5" text-anchor="middle" fill="#1a1a1a" font-family="'DejaVu Sans', 'Liberation Sans', sans-serif" stroke="#1a1a1a" stroke-width="0.15">−50</text>
<text x="419.74" y="378.76" font-size="4.5" text-anchor="middle" fill="#1a1a1a" font-family="'DejaVu Sans', 'Liberation Sans', sans-serif" stroke="#1a1a1a" stroke-width="0.15">0</text>
<text x="456.53" y="378.65" font-size="4.5" text-anchor="middle" fill="#1a1a1a" font-family="'DejaVu Sans', 'Liberation Sans', sans-serif" stroke="#1a1a1a" stroke-width="0.15">−50</text>
<text x="476.19" y="373.1" font-size="4.5" text-anchor="middle" fill="#1a1a1a" font-family="'DejaVu Sans', 'Liberation Sans', sans-serif" stroke="#1a1a1a" stroke-width="0.15">0</text>
<text x="495.35" y="367.68" font-size="4.5" text-anchor="middle" fill="#1a1a1a" font-family="'DejaVu Sans', 'Liberation Sans', sans-serif" stroke="#1a1a1a" stroke-width="0.15">50</text>
<text x="514.02" y="362.41" font-size="4.5" text-anchor="middle" fill="#1a1a1a" font-family="'DejaVu Sans', 'Liberation Sans', sans-serif" stroke="#1a1a1a" stroke-width="0.15">100</text>
<text x="534.36" y="343.91" font-size="4.5" text-anchor="middle" fill="#1a1a1a" font-family="'DejaVu Sans', 'Liberation Sans', sans-serif" stroke="#1a1a1a" stroke-width="0.15">−100</text>
<text x="534.71" y="321.53" font-size="4.5" text-anchor="middle" fill="#1a1a1a" font-family="'DejaVu Sans', 'Liberation Sans', sans-serif" stroke="#1a1a1a" stroke-width="0.15">−50</text>
<text x="535.07" y="298.93" font-size="4.5" text-anchor="middle" fill="#1a1a1a" font-family="'DejaVu Sans', 'Liberation Sans', sans-serif" stroke="#1a1a1a" stroke-width="0.15">0</text>
<text x="535.43" y="276.09" font-size="4.5" text-anchor="middle" fill="#1a1a1a" font-family="'DejaVu Sans', 'Liberation Sans', sans-serif" stroke="#1a1a1a" stroke-width="0.15">50</text>
<text x="535.8" y="253.02" font-size="4.5" text-anchor="middle" fill="#1a1a1a" font-family="'DejaVu Sans', 'Liberation Sans', sans-serif" stroke="#1a1a1a" stroke-width="0.15">100</text>
<text x="390.4" y="369.75" font-size="3.2" text-anchor="middle" fill="#1a1a1a" font-family="'DejaVu Sans', 'Liberation Sans', sans-serif" stroke="#1a1a1a" stroke-width="0.15" transform="rotate(31 390.4 368.6)">x (m)</text>
<text x="487.6" y="376.75" font-size="3.2" text-anchor="middle" fill="#1a1a1a" font-family="'DejaVu Sans', 'Liberation Sans', sans-serif" stroke="#1a1a1a" stroke-width="0.15" transform="rotate(-16 487.6 375.6)">z (m)</text>
<text x="543.2" y="300.95" font-size="3.2" text-anchor="middle" fill="#1a1a1a" font-family="'DejaVu Sans', 'Liberation Sans', sans-serif" stroke="#1a1a1a" stroke-width="0.15" transform="rotate(-90 543.2 299.8)">y (m)</text>
<polyline points="466.43,304.79 460.18,306.48 458.79,306.86 457.42,307.23 456.05,307.6 454.7,307.97 453.36,308.33 452.03,308.69 450.72,309.05 449.42,309.4 448.13,309.75 445.14,310.57 444.52,310.74 443.89,310.91 443.26,311.08 442.63,311.24 442,311.41 441.36,311.58 440.72,311.74 440.08,311.91 439.44,312.07 439.15,312.15 438.45,312.31 437.79,312.43 437.17,312.5 436.57,312.54 436.02,312.54 435.49,312.49 435,312.41 434.55,312.28 434.12,312.11 434.12,312.11 433.72,311.92 433.31,311.73 432.9,311.54 432.48,311.35 432.06,311.16 431.63,310.96 431.2,310.77 430.77,310.57 430.33,310.38 420.52,305.99 418.38,305.03 416.26,304.08 414.15,303.12 412.06,302.17 409.98,301.01 407.92,299.62 405.88,298.24 403.85,296.91 401.84,295.98 394.07,292.37 393.85,292.25 393.7,292.13 393.63,292.01 393.62,291.9 393.69,291.79 393.83,291.68 394.05,291.57 394.33,291.46 394.69,291.36 398.69,290.29 400,289.94 401.36,289.58 402.78,289.2 404.25,288.81 405.78,288.41 407.37,287.99 409.01,287.55 410.71,287.11 412.46,286.65 422.79,283.92 423.71,283.67 424.56,283.4 425.34,283.12 426.06,282.83 426.71,282.52 427.29,282.21 427.81,281.88 428.27,281.54 428.66,281.19 434.73,275.14 435,274.91 435.32,274.73 435.69,274.57 436.13,274.45 436.61,274.37 437.15,274.32 437.75,274.3 438.4,274.32 439.11,274.37 479.66,278.12 480.43,278.21 481.08,278.32 481.6,278.45 482,278.6 482.27,278.77 482.43,278.96 482.46,279.22 482.37,279.53 482.15,279.86 480.98,281.28 480.63,281.68 480.25,282.07 479.83,282.46 479.38,282.84 478.9,283.21 478.38,283.57 477.83,283.92 477.25,284.27 476.64,284.61 474.88,285.53 473.83,286.06 472.74,286.58 471.59,287.08 470.39,287.56 469.14,288.02 467.85,288.47 466.5,288.87 465.11,289.26 463.66,289.64 456.99,291.34 456.1,291.56 455.22,291.79 454.34,292.01 453.46,292.24 452.58,292.46 451.71,292.69 450.85,292.91 449.99,293.14 449.13,293.36 449.13,293.36 448.35,293.59 447.72,293.81 447.24,294.04 446.92,294.26 446.74,294.49 446.72,294.72 446.85,294.95 447.14,295.19 447.58,295.42 447.58,295.42 448.13,295.66 448.74,295.93 449.42,296.23 450.17,296.55 450.98,296.89 451.86,297.26 452.81,297.65 453.82,298.07 454.9,298.51 467.47,303.63 467.56,303.67 467.66,303.69 467.77,303.72 467.88,303.73 468,303.74 468.12,303.74 468.25,303.74 468.38,303.73 468.52,303.71 469.78,303.54" fill="none" stroke="#2020ff" stroke-width="0.9" stroke-opacity="0.6" stroke-linejoin="round" stroke-linecap="round" />
<polyline points="466.43,304.69 460.18,306.38 458.79,306.76 457.42,307.13 456.05,307.5 454.7,307.87 453.36,308.23 452.03,308.59 450.72,308.95 449.42,309.3 448.13,309.65 445.14,310.47 444.52,310.64 443.89,310.81 443.26,310.98 442.63,311.14 442,311.31 441.36,311.48 440.72,311.64 440.08,311.81 439.44,311.97 439.15,312.05 438.45,312.21 437.79,312.33 437.17,312.4 436.57,312.44 436.02,312.44 435.49,312.39 435,312.31 434.55,312.18 434.12,312.01 434.12,312.01 433.72,311.82 433.31,311.63 432.9,311.44 432.48,311.25 432.06,311.06 431.63,310.86 431.2,310.67 430.77,310.47 430.33,310.28 420.52,305.89 418.38,304.93 416.26,303.98 414.15,303.02 412.06,302.07 409.98,300.91 407.92,299.52 405.88,298.14 403.85,296.81 401.84,295.88 394.07,292.27 393.85,292.15 393.7,292.03 393.63,291.91 393.62,291.8 393.69,291.69 393.83,291.58 394.05,291.47 394.33,291.36 394.69,291.26 398.69,290.19 400,289.84 401.36,289.48 402.78,289.1 404.25,288.71 405.78,288.31 407.37,287.89 409.01,287.45 410.71,287.01 412.46,286.55 422.79,283.82 423.71,283.57 424.56,283.3 425.34,283.02 426.06,282.73 426.71,282.42 427.29,282.11 427.81,281.78 428.27,281.44 428.66,281.09 434.73,275.04 435,274.81 435.32,274.63 435.69,274.47 436.13,274.35 436.61,274.27 437.15,274.22 437.75,274.2 438.4,274.22 439.11,274.27 479.66,278.02 480.43,278.11 481.08,278.22 481.6,278.35 482,278.5 482.27,278.67 482.43,278.86 482.46,279.12 482.37,279.43 482.15,279.76 480.98,281.18 480.63,281.58 480.25,281.97 479.83,282.36 479.38,282.74 478.9,283.11 478.38,283.47 477.83,283.82 477.25,284.17 476.64,284.51 474.88,285.43 473.83,285.96 472.74,286.48 471.59,286.98 470.39,287.46 469.14,287.92 467.85,288.37 466.5,288.77 465.11,289.16 463.66,289.54 456.99,291.24 456.1,291.46 455.22,291.69 454.34,291.91 453.46,292.14 452.58,292.36 451.71,292.59 450.85,292.81 449.99,293.04 449.13,293.26 449.13,293.26 448.35,293.49 447.72,293.71 447.24,293.94 446.92,294.16 446.74,294.39 446.72,294.62 446.85,294.85 447.14,295.09 447.58,295.32 447.58,295.32 448.13,295.56 448.74,295.83 449.42,296.13 450.17,296.45 450.98,296.79 451.86,297.16 452.81,297.55 453.82,297.97 454.9,298.41 467.47,303.53 467.56,303.57 467.66,303.59 467.77,303.62 467.88,303.63 468,303.64 468.12,303.64 468.25,303.64 468.38,303.63 468.52,303.61 469.78,303.44" fill="none" stroke="#e5223f" stroke-width="1.05" stroke-opacity="0.88" stroke-linejoin="round" stroke-linecap="round" />
<circle cx="465.62" cy="304.74" r="1.55" fill="#000"/>
<rect x="495.5" y="194.8" width="46.9" height="21.5" rx="0.8" fill="#fff" fill-opacity="0.8" stroke="#dcdcdc" stroke-width="0.5"/>
<line x1="497.6" y1="198.5" x2="507" y2="198.5" stroke="#5a5aff" stroke-width="1.0" />
<text x="510.3" y="200.16" font-size="4.6" text-anchor="start" fill="#1a1a1a" font-family="'DejaVu Sans', 'Liberation Sans', sans-serif" stroke="#1a1a1a" stroke-width="0.15">Ours</text>
<line x1="497.6" y1="205.3" x2="507" y2="205.3" stroke="#ff6a6a" stroke-width="1.0" />
<text x="510.3" y="206.96" font-size="4.6" text-anchor="start" fill="#1a1a1a" font-family="'DejaVu Sans', 'Liberation Sans', sans-serif" stroke="#1a1a1a" stroke-width="0.15">Ground Truth</text>
<circle cx="502.3" cy="212" r="1.3" fill="#000"/>
<text x="510.3" y="213.66" font-size="4.6" text-anchor="start" fill="#1a1a1a" font-family="'DejaVu Sans', 'Liberation Sans', sans-serif" stroke="#1a1a1a" stroke-width="0.15">Start Point</text>
</svg>
</body></html>
